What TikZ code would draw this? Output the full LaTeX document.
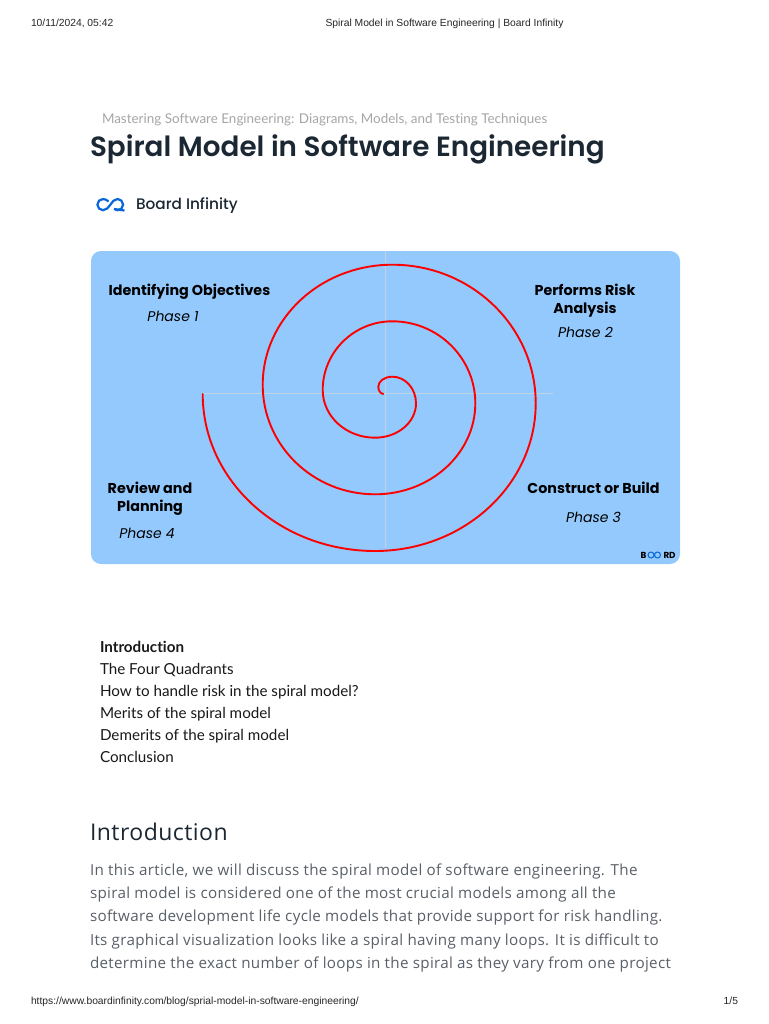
\documentclass[tikz,border=0pt]{standalone}
\usepackage{fontspec}
\setmainfont{Liberation Sans}
\newfontfamily\tocfont[Ligatures=NoCommon]{Lato}
\newfontfamily\headfont{Poppins}
\newfontfamily\semifont{Poppins SemiBold}
\newfontfamily\medfont{Poppins Medium}
\newfontfamily\bodyfont[LetterSpace=2]{Open Sans}
\usetikzlibrary{positioning}
\definecolor{panelblue}{HTML}{93C9FD}
\definecolor{logoblue}{HTML}{0A66D8}
\definecolor{titleink}{HTML}{1B2733}
\definecolor{bodyink}{HTML}{5A6068}
\definecolor{crossgrey}{HTML}{BFD3E6}
\tikzstyle{pageline} = [anchor=base west, inner sep=0pt, outer sep=0pt]
\tikzstyle{header} = [pageline, font=\fontsize{10.3}{12}\selectfont, text=black!85]
\tikzstyle{toc} = [pageline, font=\tocfont\fontsize{15.2}{18}\selectfont, text=black!90]
\tikzstyle{body} = [pageline, font=\bodyfont\fontsize{15.2}{17}\selectfont, text=bodyink]
\tikzstyle{phasetitle} = [align=center, inner sep=0pt, font=\headfont\bfseries\fontsize{14.3}{18.4}\selectfont, text=black]
\tikzstyle{phasename} = [inner sep=0pt, font=\headfont\itshape\fontsize{14}{15}\selectfont, text=black]
\tikzstyle{spiral} = [red, line width=1.9pt]
\tikzstyle{cross} = [crossgrey, line width=0.6pt]
\begin{document}
\begin{tikzpicture}[x=1pt, y=-1pt]
  \useasboundingbox (0,0) rectangle (768,1024);
  \fill[white] (0,0) rectangle (768,1024);
  % page header and footer
  \node(date)[header] at (31,27) {10/11/2024, 05:42};
  \node(pagetitle)[header, anchor=base] at (444.5,27) {Spiral Model in Software Engineering | Board Infinity};
  \node(url)[header] at (31,1004) {https://www.boardinfinity.com/blog/sprial-model-in-software-engineering/};
  \node(pageno)[header, anchor=base east] at (738,1004) {1/5};
  % title block
  \node(course)[pageline, font=\tocfont\fontsize{13.45}{18}\selectfont, text=black!35] at (102,124) {Mastering Software Engineering: Diagrams, Models, and Testing Techniques};
  \node(title)[pageline, font=\semifont\fontsize{27.8}{32}\selectfont, text=titleink] at (90,157) {Spiral Model in Software Engineering};
  \node(brand)[pageline, font=\medfont\fontsize{15.3}{17}\selectfont, text=titleink] at (136,210) {Board Infinity};
  % logo
  \draw[logoblue, line width=2.2pt] (103,199) arc[start angle=90, end angle=270, x radius=5.6, y radius=-5.6] .. controls (110,210.2) and (111,199) .. (117.5,199) arc[start angle=90, end angle=-90, x radius=5.6, y radius=-5.6] .. controls (116,210.2) and (115,209.8) .. (114,209) -- (124.5,210.5);
  \draw[logoblue, line width=2.2pt] (103,199) .. controls (105,199) and (107,200) .. (108.5,201.5);
  % panel
  \fill[panelblue, rounded corners=10pt] (91,251) rectangle (680,564);
  \draw[cross] (202,393.5) -- (553,393.5);
  \draw[cross] (385,251) -- (385,548);
  % spiral, quarter turns
  \coordinate (s0) at (383.3,394);
  \draw[spiral, line cap=round] (s0) .. controls (380,393.5) and (378.3,390) .. (378.3,386.7)
    arc[start angle=180, end angle=90, x radius=14, y radius=-10]
    arc[start angle=90, end angle=0, x radius=23.7, y radius=-26.6]
    arc[start angle=0, end angle=-90, x radius=41, y radius=-34.4]
    arc[start angle=-90, end angle=-180, x radius=52.3, y radius=-47.7]
    arc[start angle=180, end angle=90, x radius=69.6, y radius=-68.7]
    arc[start angle=90, end angle=0, x radius=83, y radius=-82]
    arc[start angle=0, end angle=-90, x radius=100.3, y radius=-91]
    arc[start angle=-90, end angle=-180, x radius=112.3, y radius=-109.3]
    arc[start angle=180, end angle=90, x radius=129.6, y radius=-120.3]
    arc[start angle=90, end angle=0, x radius=143.4, y radius=-138.6]
    arc[start angle=0, end angle=-90, x radius=160.7, y radius=-147.7]
    arc[start angle=-90, end angle=-180, x radius=172.3, y radius=-157];
  % quadrant labels
  \node(obj)[phasetitle] at (189.5,291.5) {Identifying Objectives};
  \node(ph1)[phasename] at (173,316.3) {Phase 1};
  \node(risk)[phasetitle] at (585,300.5) {Performs Risk\\Analysis};
  \node(ph2)[phasename] at (585.5,332.3) {Phase 2};
  \node(review)[phasetitle] at (150,498.5) {Review and\\Planning};
  \node(ph4)[phasename] at (147,533.3) {Phase 4};
  \node(build)[phasetitle] at (593.5,488) {Construct or Build};
  \node(ph3)[phasename] at (593.5,517.3) {Phase 3};
  % small mark
  \node(markb)[pageline, font=\headfont\bfseries\fontsize{8.8}{9}\selectfont] at (640.5,558) {B};
  \node(markrd)[pageline, font=\headfont\bfseries\fontsize{8.8}{9}\selectfont] at (663.5,558) {RD};
  \draw[logoblue, line width=1pt] (651,555) circle[radius=3] (657.5,555) circle[radius=3];
  % contents
  \node(toc1)[toc, font=\tocfont\bfseries\fontsize{15.2}{18}\selectfont] at (100,652.5) {Introduction};
  \node(toc2)[toc] at (100,674.5) {The Four Quadrants};
  \node(toc3)[toc] at (100,696.5) {How to handle risk in the spiral model?};
  \node(toc4)[toc] at (100,718.5) {Merits of the spiral model};
  \node(toc5)[toc] at (100,740.5) {Demerits of the spiral model};
  \node(toc6)[toc] at (100,762.5) {Conclusion};
  % article
  \node(intro)[pageline, font=\bodyfont\fontsize{23}{27}\selectfont, text=titleink] at (90,840) {Introduction};
  \node(line1)[body] at (90,875) {In this article, we will discuss the spiral model of software engineering. The};
  \node(line2)[body] at (90,898) {spiral model is considered one of the most crucial models among all the};
  \node(line3)[body] at (90,921) {software development life cycle models that provide support for risk handling.};
  \node(line4)[body] at (90,945) {Its graphical visualization looks like a spiral having many loops. It is difficult to};
  \node(line5)[body] at (90,968) {determine the exact number of loops in the spiral as they vary from one project};
\end{tikzpicture}
\end{document}
